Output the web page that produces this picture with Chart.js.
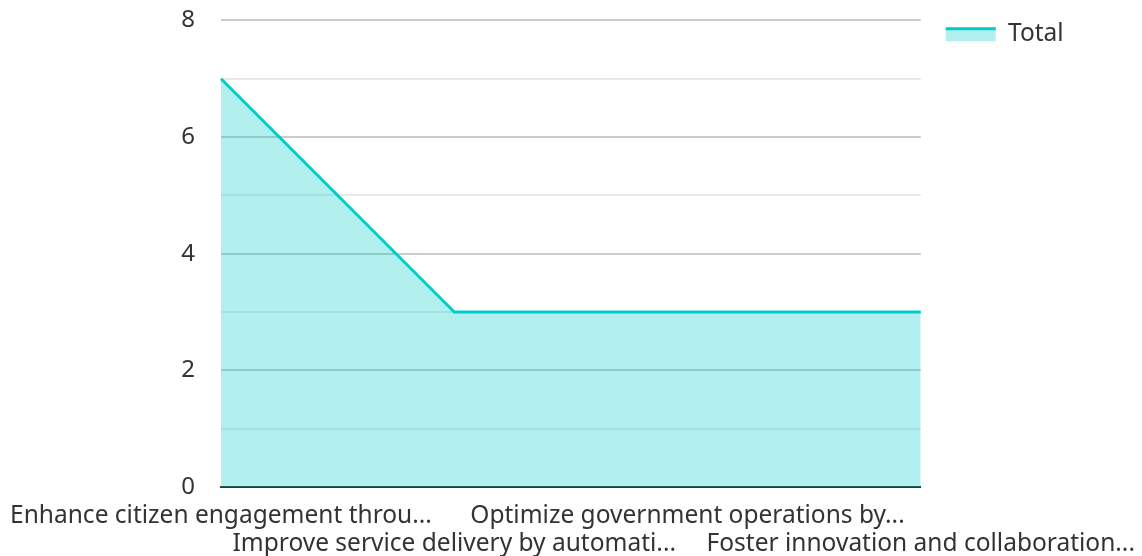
<!DOCTYPE html>
<html>
<head>
<meta charset="utf-8">
<script src="https://cdn.jsdelivr.net/npm/chart.js@4"></script>
<style>
  html, body { margin: 0; padding: 0; background: #fff; }
  #wrap { width: 1142px; height: 556px; }
</style>
</head>
<body>
<div id="wrap"><canvas id="myChart"></canvas></div>
<script>
const labels = [
    'Enhance citizen engagement throu...',
    'Improve service delivery by automati...',
    'Optimize government operations by...',
    'Foster innovation and collaboration...'
];
const totals = [7, 3, 3, 3];
const yTicks = [0, 2, 4, 6, 8];

const lineColor = 'rgb(0, 204, 204)';
const fillColor = 'rgba(0, 204, 204, 0.3)';

// redraw the legend swatch as a line sitting on top of the filled box
const legendLine = {
    id: 'legendLine',
    afterDraw(chart) {
        const legend = chart.legend;
        if (!legend || !legend.legendHitBoxes) return;
        const ctx = chart.ctx;
        legend.legendHitBoxes.forEach(box => {
            const x = box.left;
            const y = box.top + (box.height - 14) / 2;
            ctx.save();
            ctx.fillStyle = lineColor;
            ctx.fillRect(x, y, 50, 3);
            ctx.restore();
        });
    }
};

const config = {
    type: 'line',
    data: {
        labels: labels,
        datasets: [{
            label: 'Total',
            data: totals,
            borderColor: lineColor,
            backgroundColor: fillColor,
            borderWidth: 3,
            fill: true,
            tension: 0,
            pointRadius: 0,
            pointHoverRadius: 0
        }]
    },
    options: {
        responsive: true,
        maintainAspectRatio: false,
        animation: false,
        layout: { padding: { top: -3, right: 42, left: 12, bottom: 0 } },
        plugins: {
            tooltip: { enabled: false },
            legend: {
                position: 'right',
                align: 'start',
                labels: {
                    boxWidth: 50,
                    boxHeight: 14,
                    padding: 25,
                    color: '#333',
                    font: { family: 'Noto Sans', size: 24.5 },
                    generateLabels(chart) {
                        return [{
                            text: 'Total',
                            fillStyle: fillColor,
                            strokeStyle: fillColor,
                            lineWidth: 0,
                            fontColor: '#333',
                            datasetIndex: 0
                        }];
                    }
                }
            }
        },
        scales: {
            x: {
                offset: false,
                grid: { display: false },
                border: { display: true, color: '#333', width: 2 },
                afterFit: scale => { scale.height = 69; },
                ticks: {
                    autoSkip: false,
                    maxRotation: 0,
                    minRotation: 0,
                    color: '#333',
                    padding: 7,
                    font: { family: 'Noto Sans', size: 24.5, lineHeight: 1.14 },
                    callback: function (value, index) {
                        const t = labels[index];
                        return index % 2 === 0 ? [t, ''] : ['', t];
                    }
                }
            },
            y: {
                min: 0,
                max: 8,
                border: { display: false },
                afterFit: scale => { scale.width = 209; },
                grid: {
                    drawTicks: true,
                    tickLength: 20,
                    tickColor: 'rgba(0,0,0,0)',
                    lineWidth: 2,
                    color: ctx => (yTicks.includes(ctx.tick.value) ? '#cccccc' : '#e8e8e8')
                },
                ticks: {
                    stepSize: 1,
                    padding: 6,
                    color: '#333',
                    font: { family: 'Noto Sans', size: 24 },
                    callback: v => (yTicks.includes(v) ? v : '')
                }
            }
        }
    },
    plugins: [legendLine]
};

new Chart(document.getElementById('myChart'), config);
</script>
</body>
</html>
